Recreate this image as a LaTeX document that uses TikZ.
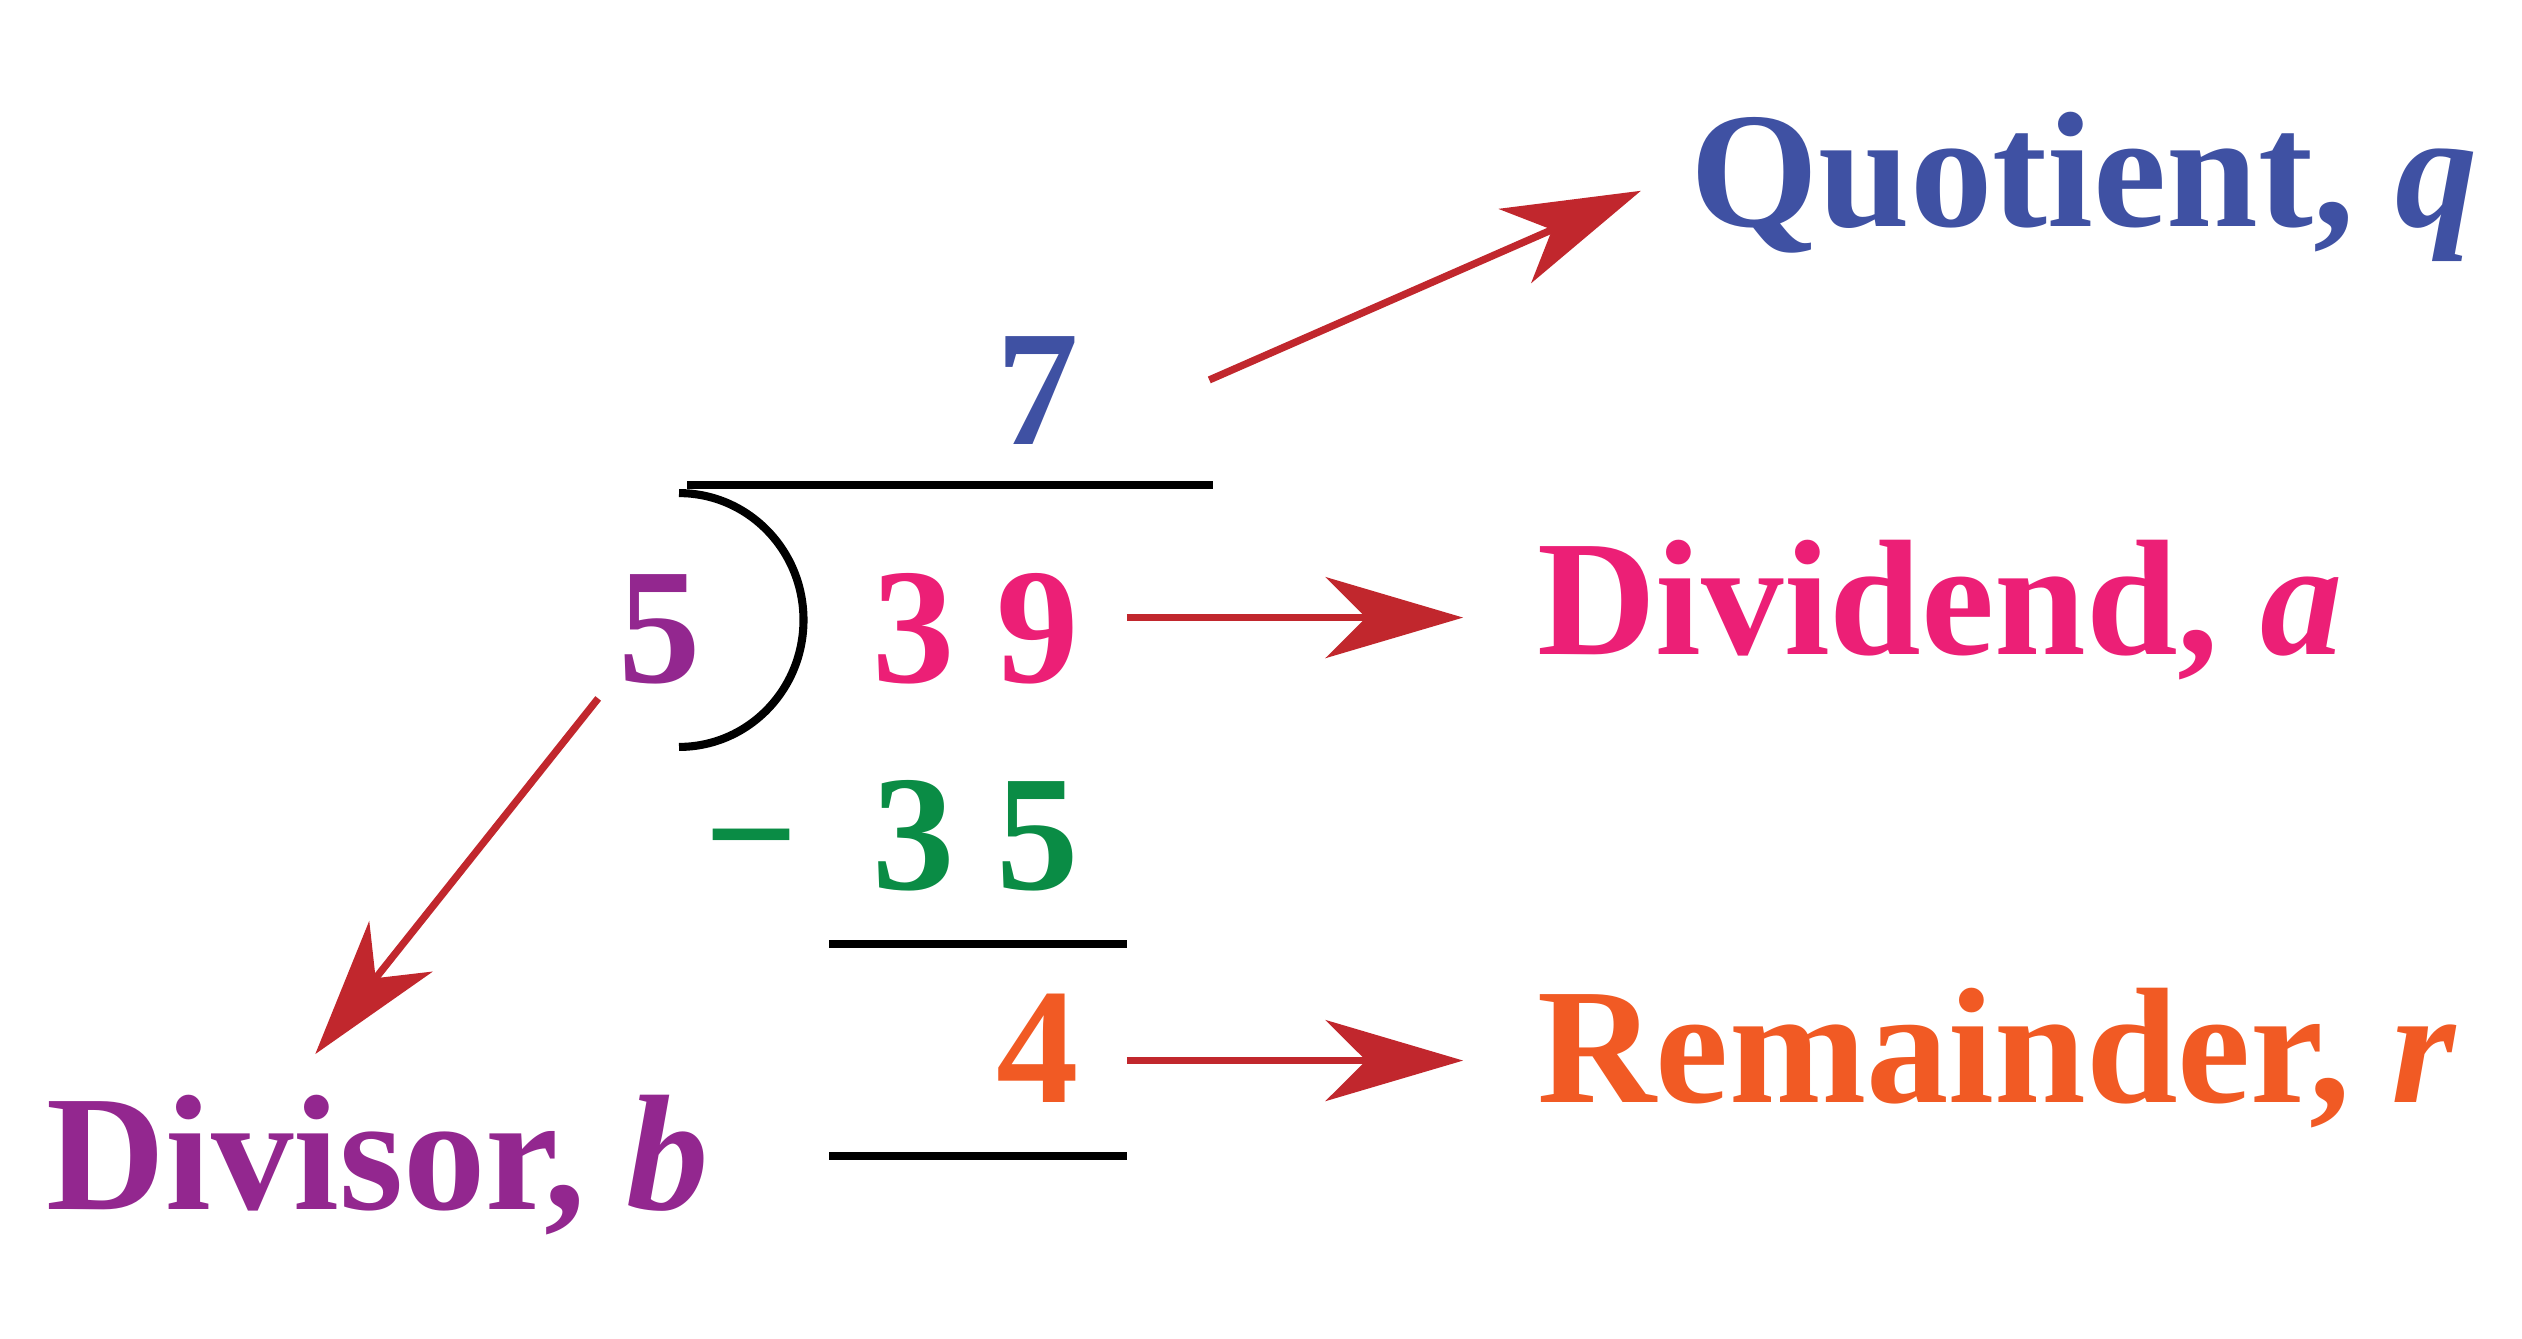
\documentclass[tikz,border=0pt]{standalone}
\usepackage{fontspec}
\setmainfont{Liberation Serif}
\usetikzlibrary{arrows.meta}
\definecolor{qblue}{HTML}{3F51A3}
\definecolor{dpink}{HTML}{EC1F76}
\definecolor{bpurple}{HTML}{93278F}
\definecolor{sgreen}{HTML}{0A8C45}
\definecolor{rorange}{HTML}{F15A24}
\definecolor{ared}{HTML}{C1272D}
\begin{document}
\begin{tikzpicture}[x=1cm,y=-1cm,
  txt/.style={inner sep=0pt,font=\fontsize{29}{32}\selectfont\bfseries},
  lbl/.style={txt,anchor=base west},
  dig/.style={txt,anchor=base},
  bar/.style={line width=0.05cm,black},
  arr/.style={ared,line width=0.045cm,-{Stealth[length=0.85cm,width=0.5cm,inset=0.25cm]}}]
\useasboundingbox[fill=white] (0,0) rectangle (15.6,8.28);
% labels
\node[lbl,text=qblue] (q) at (10.45,1.40) {Quotient, \textit{q}};
\node[lbl,text=dpink] (a) at (9.5,4.05) {Dividend, \textit{a}};
\node[lbl,text=rorange] (r) at (9.5,6.82) {Remainder, \textit{r}};
\node[lbl,text=bpurple] (b) at (0.28,7.48) {Divisor, \textit{b}};
% digits
\node[dig,text=qblue] (d7) at (6.42,2.75) {7};
\node[dig,text=bpurple] (d5) at (4.08,4.22) {5};
\node[dig,text=dpink] (d3) at (5.65,4.22) {3};
\node[dig,text=dpink] (d9) at (6.42,4.22) {9};
\node[dig,text=sgreen] (m) at (4.65,5.50) {\char"2212};
\node[dig,text=sgreen] (e3) at (5.65,5.50) {3};
\node[dig,text=sgreen] (e5) at (6.42,5.50) {5};
\node[dig,text=rorange] (d4) at (6.42,6.82) {4};
% bars
\coordinate (t1) at (4.25,3.00); \coordinate (t2) at (7.50,3.00);
\draw[bar] (t1) -- (t2);
\coordinate (k1) at (4.20,3.05);
\draw[bar] (k1) arc[start angle=90,end angle=-90,x radius=0.77cm,y radius=0.785cm] coordinate (k2);
\coordinate (s1) at (5.13,5.84); \coordinate (s2) at (6.97,5.84);
\draw[bar] (s1) -- (s2);
\coordinate (u1) at (5.13,7.15); \coordinate (u2) at (6.97,7.15);
\draw[bar] (u1) -- (u2);
% arrows
\coordinate (qa) at (7.48,2.35); \coordinate (qb) at (10.15,1.18);
\draw[arr] (qa) -- (qb);
\coordinate (aa) at (6.97,3.82); \coordinate (ab) at (9.05,3.82);
\draw[arr] (aa) -- (ab);
\coordinate (ra) at (6.97,6.56); \coordinate (rb) at (9.05,6.56);
\draw[arr] (ra) -- (rb);
\coordinate (ba) at (3.70,4.32); \coordinate (bb) at (1.95,6.52);
\draw[arr] (ba) -- (bb);
\end{tikzpicture}
\end{document}
